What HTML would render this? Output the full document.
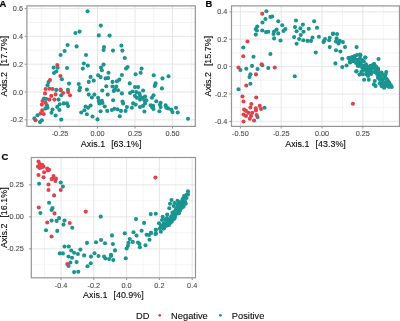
<!DOCTYPE html>
<html><head><meta charset="utf-8">
<style>
html,body{margin:0;padding:0;background:#fff;width:400px;height:321px;overflow:hidden}
svg{display:block;filter:blur(0.35px)}
text{font-family:"Liberation Sans",sans-serif}
.tk{font-size:7.3px;fill:#484848;stroke:#484848;stroke-width:0.08px}
.ti{font-size:9.6px;fill:#0a0a0a;stroke:#0a0a0a;stroke-width:0.12px;word-spacing:-0.5px}
.tag{font-size:9.4px;font-weight:bold;fill:#000;stroke:#000;stroke-width:0.2px}
.lg{font-size:9.3px;fill:#0a0a0a;stroke:#0a0a0a;stroke-width:0.1px}
</style></head>
<body>
<svg width="400" height="321" viewBox="0 0 400 321">
<rect width="400" height="321" fill="#fff"/>
<line x1="41.25" y1="5.9" x2="41.25" y2="126.4" stroke="#EDEDED" stroke-width="0.6"/>
<line x1="78.75" y1="5.9" x2="78.75" y2="126.4" stroke="#EDEDED" stroke-width="0.6"/>
<line x1="116.25" y1="5.9" x2="116.25" y2="126.4" stroke="#EDEDED" stroke-width="0.6"/>
<line x1="153.75" y1="5.9" x2="153.75" y2="126.4" stroke="#EDEDED" stroke-width="0.6"/>
<line x1="191.25" y1="5.9" x2="191.25" y2="126.4" stroke="#EDEDED" stroke-width="0.6"/>
<line x1="26.9" y1="22.50" x2="195.3" y2="22.50" stroke="#EDEDED" stroke-width="0.6"/>
<line x1="26.9" y1="50.30" x2="195.3" y2="50.30" stroke="#EDEDED" stroke-width="0.6"/>
<line x1="26.9" y1="78.10" x2="195.3" y2="78.10" stroke="#EDEDED" stroke-width="0.6"/>
<line x1="26.9" y1="105.90" x2="195.3" y2="105.90" stroke="#EDEDED" stroke-width="0.6"/>
<line x1="60.00" y1="5.9" x2="60.00" y2="126.4" stroke="#E0E0E0" stroke-width="0.8"/>
<line x1="97.50" y1="5.9" x2="97.50" y2="126.4" stroke="#E0E0E0" stroke-width="0.8"/>
<line x1="135.00" y1="5.9" x2="135.00" y2="126.4" stroke="#E0E0E0" stroke-width="0.8"/>
<line x1="172.50" y1="5.9" x2="172.50" y2="126.4" stroke="#E0E0E0" stroke-width="0.8"/>
<line x1="26.9" y1="8.60" x2="195.3" y2="8.60" stroke="#E0E0E0" stroke-width="0.8"/>
<line x1="26.9" y1="36.40" x2="195.3" y2="36.40" stroke="#E0E0E0" stroke-width="0.8"/>
<line x1="26.9" y1="64.20" x2="195.3" y2="64.20" stroke="#E0E0E0" stroke-width="0.8"/>
<line x1="26.9" y1="92.00" x2="195.3" y2="92.00" stroke="#E0E0E0" stroke-width="0.8"/>
<line x1="26.9" y1="119.80" x2="195.3" y2="119.80" stroke="#E0E0E0" stroke-width="0.8"/>
<g>
<circle cx="60.6" cy="90.3" r="2.05" fill="#1A9490"/>
<circle cx="87.6" cy="11.2" r="2.05" fill="#1A9490"/>
<circle cx="100.8" cy="25.6" r="2.05" fill="#1A9490"/>
<circle cx="75.4" cy="33" r="2.05" fill="#1A9490"/>
<circle cx="79.6" cy="31.6" r="2.05" fill="#1A9490"/>
<circle cx="98.8" cy="35.4" r="2.05" fill="#1A9490"/>
<circle cx="67.6" cy="45" r="2.05" fill="#1A9490"/>
<circle cx="76.6" cy="46.4" r="2.05" fill="#1A9490"/>
<circle cx="64.6" cy="51" r="2.05" fill="#1A9490"/>
<circle cx="60.6" cy="55" r="2.05" fill="#1A9490"/>
<circle cx="86" cy="55" r="2.05" fill="#1A9490"/>
<circle cx="104" cy="47" r="2.05" fill="#1A9490"/>
<circle cx="103.6" cy="50" r="2.05" fill="#1A9490"/>
<circle cx="83.8" cy="63.5" r="2.05" fill="#1A9490"/>
<circle cx="87.8" cy="65.6" r="2.05" fill="#1A9490"/>
<circle cx="53.6" cy="67.6" r="2.05" fill="#1A9490"/>
<circle cx="57.6" cy="67.7" r="2.05" fill="#1A9490"/>
<circle cx="67" cy="68" r="2.05" fill="#1A9490"/>
<circle cx="82.8" cy="68.6" r="2.05" fill="#1A9490"/>
<circle cx="101" cy="67.6" r="2.05" fill="#1A9490"/>
<circle cx="103.6" cy="64.6" r="2.05" fill="#1A9490"/>
<circle cx="109.6" cy="35.6" r="2.05" fill="#1A9490"/>
<circle cx="113" cy="50.6" r="2.05" fill="#1A9490"/>
<circle cx="121.4" cy="45.6" r="2.05" fill="#1A9490"/>
<circle cx="122.4" cy="50.6" r="2.05" fill="#1A9490"/>
<circle cx="124.8" cy="58" r="2.05" fill="#1A9490"/>
<circle cx="127.6" cy="67" r="2.05" fill="#1A9490"/>
<circle cx="126" cy="68.6" r="2.05" fill="#1A9490"/>
<circle cx="141.6" cy="68.6" r="2.05" fill="#1A9490"/>
<circle cx="54" cy="73" r="2.05" fill="#1A9490"/>
<circle cx="56.25" cy="71.5" r="2.05" fill="#1A9490"/>
<circle cx="61.9" cy="79.25" r="2.05" fill="#1A9490"/>
<circle cx="48.5" cy="82.1" r="2.05" fill="#1A9490"/>
<circle cx="47.5" cy="85.25" r="2.05" fill="#1A9490"/>
<circle cx="69" cy="83.6" r="2.05" fill="#1A9490"/>
<circle cx="78.75" cy="84" r="2.05" fill="#1A9490"/>
<circle cx="56.25" cy="89.9" r="2.05" fill="#1A9490"/>
<circle cx="67.9" cy="89.9" r="2.05" fill="#1A9490"/>
<circle cx="61.25" cy="95.25" r="2.05" fill="#1A9490"/>
<circle cx="44" cy="98.6" r="2.05" fill="#1A9490"/>
<circle cx="46.25" cy="99" r="2.05" fill="#1A9490"/>
<circle cx="58.5" cy="99.6" r="2.05" fill="#1A9490"/>
<circle cx="63.75" cy="103.4" r="2.05" fill="#1A9490"/>
<circle cx="66.9" cy="103.4" r="2.05" fill="#1A9490"/>
<circle cx="46.9" cy="105.25" r="2.05" fill="#1A9490"/>
<circle cx="47.5" cy="107.75" r="2.05" fill="#1A9490"/>
<circle cx="45.6" cy="108.4" r="2.05" fill="#1A9490"/>
<circle cx="59.75" cy="104.25" r="2.05" fill="#1A9490"/>
<circle cx="57.25" cy="106.9" r="2.05" fill="#1A9490"/>
<circle cx="68.1" cy="106.1" r="2.05" fill="#1A9490"/>
<circle cx="52.5" cy="109.6" r="2.05" fill="#1A9490"/>
<circle cx="59.4" cy="110" r="2.05" fill="#1A9490"/>
<circle cx="51.5" cy="112.75" r="2.05" fill="#1A9490"/>
<circle cx="55.6" cy="115.5" r="2.05" fill="#1A9490"/>
<circle cx="37.5" cy="115.25" r="2.05" fill="#1A9490"/>
<circle cx="34.4" cy="118.4" r="2.05" fill="#1A9490"/>
<circle cx="41.9" cy="120.25" r="2.05" fill="#1A9490"/>
<circle cx="40" cy="122.1" r="2.05" fill="#1A9490"/>
<circle cx="61.25" cy="119.6" r="2.05" fill="#1A9490"/>
<circle cx="101.9" cy="70.25" r="2.05" fill="#1A9490"/>
<circle cx="108.5" cy="72.75" r="2.05" fill="#1A9490"/>
<circle cx="121.9" cy="75" r="2.05" fill="#1A9490"/>
<circle cx="98.1" cy="75.25" r="2.05" fill="#1A9490"/>
<circle cx="100.6" cy="77.1" r="2.05" fill="#1A9490"/>
<circle cx="90.6" cy="76.9" r="2.05" fill="#1A9490"/>
<circle cx="105.6" cy="78.4" r="2.05" fill="#1A9490"/>
<circle cx="108.1" cy="78.1" r="2.05" fill="#1A9490"/>
<circle cx="93.75" cy="80.6" r="2.05" fill="#1A9490"/>
<circle cx="88.75" cy="81.9" r="2.05" fill="#1A9490"/>
<circle cx="112.5" cy="81.9" r="2.05" fill="#1A9490"/>
<circle cx="116.9" cy="81.25" r="2.05" fill="#1A9490"/>
<circle cx="119.4" cy="79.6" r="2.05" fill="#1A9490"/>
<circle cx="80" cy="87.75" r="2.05" fill="#1A9490"/>
<circle cx="79.4" cy="90.25" r="2.05" fill="#1A9490"/>
<circle cx="106.25" cy="86.25" r="2.05" fill="#1A9490"/>
<circle cx="112.5" cy="86.5" r="2.05" fill="#1A9490"/>
<circle cx="116.25" cy="86.5" r="2.05" fill="#1A9490"/>
<circle cx="86.9" cy="89.6" r="2.05" fill="#1A9490"/>
<circle cx="102.25" cy="90.5" r="2.05" fill="#1A9490"/>
<circle cx="115" cy="89.6" r="2.05" fill="#1A9490"/>
<circle cx="118.1" cy="90.25" r="2.05" fill="#1A9490"/>
<circle cx="113.75" cy="90.9" r="2.05" fill="#1A9490"/>
<circle cx="121.9" cy="93.4" r="2.05" fill="#1A9490"/>
<circle cx="88.75" cy="94.6" r="2.05" fill="#1A9490"/>
<circle cx="94.4" cy="94.6" r="2.05" fill="#1A9490"/>
<circle cx="107.75" cy="94.6" r="2.05" fill="#1A9490"/>
<circle cx="91.9" cy="97.5" r="2.05" fill="#1A9490"/>
<circle cx="98.1" cy="97.75" r="2.05" fill="#1A9490"/>
<circle cx="98.75" cy="100.9" r="2.05" fill="#1A9490"/>
<circle cx="101.9" cy="100.9" r="2.05" fill="#1A9490"/>
<circle cx="113.1" cy="100.25" r="2.05" fill="#1A9490"/>
<circle cx="122.5" cy="101.5" r="2.05" fill="#1A9490"/>
<circle cx="99.4" cy="103.4" r="2.05" fill="#1A9490"/>
<circle cx="102.5" cy="103" r="2.05" fill="#1A9490"/>
<circle cx="123.1" cy="103.4" r="2.05" fill="#1A9490"/>
<circle cx="104.75" cy="106.5" r="2.05" fill="#1A9490"/>
<circle cx="90.6" cy="105.5" r="2.05" fill="#1A9490"/>
<circle cx="85.6" cy="106.5" r="2.05" fill="#1A9490"/>
<circle cx="88.1" cy="107.75" r="2.05" fill="#1A9490"/>
<circle cx="84.4" cy="110.25" r="2.05" fill="#1A9490"/>
<circle cx="81.25" cy="112.5" r="2.05" fill="#1A9490"/>
<circle cx="86.9" cy="114.25" r="2.05" fill="#1A9490"/>
<circle cx="92.5" cy="116.5" r="2.05" fill="#1A9490"/>
<circle cx="97.5" cy="119.4" r="2.05" fill="#1A9490"/>
<circle cx="100.6" cy="111.25" r="2.05" fill="#1A9490"/>
<circle cx="107.25" cy="110.9" r="2.05" fill="#1A9490"/>
<circle cx="111.9" cy="110" r="2.05" fill="#1A9490"/>
<circle cx="114.4" cy="108.75" r="2.05" fill="#1A9490"/>
<circle cx="117.5" cy="109.25" r="2.05" fill="#1A9490"/>
<circle cx="121" cy="110.9" r="2.05" fill="#1A9490"/>
<circle cx="119.75" cy="116.25" r="2.05" fill="#1A9490"/>
<circle cx="140.6" cy="72.75" r="2.05" fill="#1A9490"/>
<circle cx="135.6" cy="74.25" r="2.05" fill="#1A9490"/>
<circle cx="153.75" cy="75.25" r="2.05" fill="#1A9490"/>
<circle cx="162.5" cy="78.4" r="2.05" fill="#1A9490"/>
<circle cx="168.5" cy="76.25" r="2.05" fill="#1A9490"/>
<circle cx="129.75" cy="83.4" r="2.05" fill="#1A9490"/>
<circle cx="155.6" cy="83.4" r="2.05" fill="#1A9490"/>
<circle cx="154.75" cy="85.9" r="2.05" fill="#1A9490"/>
<circle cx="161.9" cy="88.4" r="2.05" fill="#1A9490"/>
<circle cx="135" cy="87.1" r="2.05" fill="#1A9490"/>
<circle cx="138.1" cy="87.1" r="2.05" fill="#1A9490"/>
<circle cx="130" cy="93" r="2.05" fill="#1A9490"/>
<circle cx="132.5" cy="91.5" r="2.05" fill="#1A9490"/>
<circle cx="136.25" cy="92.1" r="2.05" fill="#1A9490"/>
<circle cx="139.4" cy="93.4" r="2.05" fill="#1A9490"/>
<circle cx="143.1" cy="90.5" r="2.05" fill="#1A9490"/>
<circle cx="135" cy="95.9" r="2.05" fill="#1A9490"/>
<circle cx="136.9" cy="97.75" r="2.05" fill="#1A9490"/>
<circle cx="140" cy="95.9" r="2.05" fill="#1A9490"/>
<circle cx="142.5" cy="97.75" r="2.05" fill="#1A9490"/>
<circle cx="145" cy="96.5" r="2.05" fill="#1A9490"/>
<circle cx="140" cy="99.6" r="2.05" fill="#1A9490"/>
<circle cx="144.4" cy="100.25" r="2.05" fill="#1A9490"/>
<circle cx="146.25" cy="100.25" r="2.05" fill="#1A9490"/>
<circle cx="151.9" cy="97.75" r="2.05" fill="#1A9490"/>
<circle cx="153.5" cy="95.25" r="2.05" fill="#1A9490"/>
<circle cx="156.25" cy="101.25" r="2.05" fill="#1A9490"/>
<circle cx="160.6" cy="102.75" r="2.05" fill="#1A9490"/>
<circle cx="133.1" cy="103.4" r="2.05" fill="#1A9490"/>
<circle cx="145" cy="103.4" r="2.05" fill="#1A9490"/>
<circle cx="135.6" cy="104.6" r="2.05" fill="#1A9490"/>
<circle cx="143.1" cy="105.9" r="2.05" fill="#1A9490"/>
<circle cx="140" cy="107.1" r="2.05" fill="#1A9490"/>
<circle cx="150.6" cy="105.25" r="2.05" fill="#1A9490"/>
<circle cx="153.1" cy="105.9" r="2.05" fill="#1A9490"/>
<circle cx="151.9" cy="107.1" r="2.05" fill="#1A9490"/>
<circle cx="153.5" cy="109" r="2.05" fill="#1A9490"/>
<circle cx="160" cy="104.6" r="2.05" fill="#1A9490"/>
<circle cx="160.6" cy="107.1" r="2.05" fill="#1A9490"/>
<circle cx="165.6" cy="105.25" r="2.05" fill="#1A9490"/>
<circle cx="166.25" cy="107.75" r="2.05" fill="#1A9490"/>
<circle cx="168.1" cy="108.4" r="2.05" fill="#1A9490"/>
<circle cx="126.9" cy="107.1" r="2.05" fill="#1A9490"/>
<circle cx="131.9" cy="107.75" r="2.05" fill="#1A9490"/>
<circle cx="125.6" cy="110.9" r="2.05" fill="#1A9490"/>
<circle cx="144.4" cy="111.5" r="2.05" fill="#1A9490"/>
<circle cx="159.4" cy="111.25" r="2.05" fill="#1A9490"/>
<circle cx="171.25" cy="109.6" r="2.05" fill="#1A9490"/>
<circle cx="172.5" cy="112.1" r="2.05" fill="#1A9490"/>
<circle cx="176" cy="107.75" r="2.05" fill="#1A9490"/>
<circle cx="177.75" cy="112.5" r="2.05" fill="#1A9490"/>
<circle cx="188" cy="118.7" r="2.05" fill="#1A9490"/>
<circle cx="57.25" cy="65" r="2.05" fill="#DE434D"/>
<circle cx="60.4" cy="76.1" r="2.05" fill="#DE434D"/>
<circle cx="50" cy="80" r="2.05" fill="#DE434D"/>
<circle cx="45.6" cy="89" r="2.05" fill="#DE434D"/>
<circle cx="49.4" cy="88.75" r="2.05" fill="#DE434D"/>
<circle cx="52.5" cy="89" r="2.05" fill="#DE434D"/>
<circle cx="60.6" cy="89.6" r="2.05" fill="#DE434D"/>
<circle cx="63.1" cy="93" r="2.05" fill="#DE434D"/>
<circle cx="68.1" cy="92.1" r="2.05" fill="#DE434D"/>
<circle cx="70" cy="95.25" r="2.05" fill="#DE434D"/>
<circle cx="45" cy="93.4" r="2.05" fill="#DE434D"/>
<circle cx="55.6" cy="94.4" r="2.05" fill="#DE434D"/>
<circle cx="51.25" cy="95.9" r="2.05" fill="#DE434D"/>
<circle cx="42.5" cy="101" r="2.05" fill="#DE434D"/>
<circle cx="49.4" cy="99.6" r="2.05" fill="#DE434D"/>
<circle cx="54.4" cy="99.6" r="2.05" fill="#DE434D"/>
<circle cx="45.6" cy="102.75" r="2.05" fill="#DE434D"/>
<circle cx="41.9" cy="104.6" r="2.05" fill="#DE434D"/>
<circle cx="42.25" cy="110.25" r="2.05" fill="#DE434D"/>
<circle cx="40.6" cy="113.4" r="2.05" fill="#DE434D"/>
<circle cx="43.75" cy="114" r="2.05" fill="#DE434D"/>
<circle cx="35.6" cy="120.25" r="2.05" fill="#DE434D"/>
</g>
<rect x="26.9" y="5.9" width="168.40" height="120.50" fill="none" stroke="#959595" stroke-width="1.2"/>
<line x1="60.00" y1="126.4" x2="60.00" y2="128.60" stroke="#959595" stroke-width="1"/>
<text x="60.00" y="136.4" text-anchor="middle" class="tk">-0.25</text>
<line x1="97.50" y1="126.4" x2="97.50" y2="128.60" stroke="#959595" stroke-width="1"/>
<text x="97.50" y="136.4" text-anchor="middle" class="tk">0.00</text>
<line x1="135.00" y1="126.4" x2="135.00" y2="128.60" stroke="#959595" stroke-width="1"/>
<text x="135.00" y="136.4" text-anchor="middle" class="tk">0.25</text>
<line x1="172.50" y1="126.4" x2="172.50" y2="128.60" stroke="#959595" stroke-width="1"/>
<text x="172.50" y="136.4" text-anchor="middle" class="tk">0.50</text>
<line x1="24.70" y1="8.60" x2="26.9" y2="8.60" stroke="#959595" stroke-width="1"/>
<text x="23.0" y="11.10" text-anchor="end" class="tk">0.6</text>
<line x1="24.70" y1="36.40" x2="26.9" y2="36.40" stroke="#959595" stroke-width="1"/>
<text x="23.0" y="38.90" text-anchor="end" class="tk">0.4</text>
<line x1="24.70" y1="64.20" x2="26.9" y2="64.20" stroke="#959595" stroke-width="1"/>
<text x="23.0" y="66.70" text-anchor="end" class="tk">0.2</text>
<line x1="24.70" y1="92.00" x2="26.9" y2="92.00" stroke="#959595" stroke-width="1"/>
<text x="23.0" y="94.50" text-anchor="end" class="tk">0.0</text>
<line x1="24.70" y1="119.80" x2="26.9" y2="119.80" stroke="#959595" stroke-width="1"/>
<text x="23.0" y="122.30" text-anchor="end" class="tk">-0.2</text>
<text transform="translate(111.10,146.8) scale(0.93,1)" text-anchor="middle" class="ti" xml:space="preserve">Axis.1   [63.1%]</text>
<text transform="translate(6.9,66.15) rotate(-90) scale(0.93,1)" text-anchor="middle" class="ti" xml:space="preserve">Axis.2   [17.7%]</text>
<text x="-0.6" y="7.1" class="tag">A</text>
<line x1="260.80" y1="5.9" x2="260.80" y2="126.4" stroke="#EDEDED" stroke-width="0.6"/>
<line x1="301.60" y1="5.9" x2="301.60" y2="126.4" stroke="#EDEDED" stroke-width="0.6"/>
<line x1="342.40" y1="5.9" x2="342.40" y2="126.4" stroke="#EDEDED" stroke-width="0.6"/>
<line x1="383.20" y1="5.9" x2="383.20" y2="126.4" stroke="#EDEDED" stroke-width="0.6"/>
<line x1="231.5" y1="25.50" x2="399.5" y2="25.50" stroke="#EDEDED" stroke-width="0.6"/>
<line x1="231.5" y1="52.90" x2="399.5" y2="52.90" stroke="#EDEDED" stroke-width="0.6"/>
<line x1="231.5" y1="80.30" x2="399.5" y2="80.30" stroke="#EDEDED" stroke-width="0.6"/>
<line x1="231.5" y1="107.70" x2="399.5" y2="107.70" stroke="#EDEDED" stroke-width="0.6"/>
<line x1="240.40" y1="5.9" x2="240.40" y2="126.4" stroke="#E0E0E0" stroke-width="0.8"/>
<line x1="281.20" y1="5.9" x2="281.20" y2="126.4" stroke="#E0E0E0" stroke-width="0.8"/>
<line x1="322.00" y1="5.9" x2="322.00" y2="126.4" stroke="#E0E0E0" stroke-width="0.8"/>
<line x1="362.80" y1="5.9" x2="362.80" y2="126.4" stroke="#E0E0E0" stroke-width="0.8"/>
<line x1="231.5" y1="11.80" x2="399.5" y2="11.80" stroke="#E0E0E0" stroke-width="0.8"/>
<line x1="231.5" y1="39.20" x2="399.5" y2="39.20" stroke="#E0E0E0" stroke-width="0.8"/>
<line x1="231.5" y1="66.60" x2="399.5" y2="66.60" stroke="#E0E0E0" stroke-width="0.8"/>
<line x1="231.5" y1="94.00" x2="399.5" y2="94.00" stroke="#E0E0E0" stroke-width="0.8"/>
<line x1="231.5" y1="121.40" x2="399.5" y2="121.40" stroke="#E0E0E0" stroke-width="0.8"/>
<g>
<circle cx="262.3" cy="65.2" r="2.05" fill="#1A9490"/>
<circle cx="266.4" cy="11.25" r="2.05" fill="#1A9490"/>
<circle cx="265.4" cy="19" r="2.05" fill="#1A9490"/>
<circle cx="270.4" cy="16.9" r="2.05" fill="#1A9490"/>
<circle cx="272.25" cy="16.5" r="2.05" fill="#1A9490"/>
<circle cx="262.5" cy="22.5" r="2.05" fill="#1A9490"/>
<circle cx="278.25" cy="21.25" r="2.05" fill="#1A9490"/>
<circle cx="257.25" cy="26.5" r="2.05" fill="#1A9490"/>
<circle cx="255.75" cy="29" r="2.05" fill="#1A9490"/>
<circle cx="256.9" cy="30.5" r="2.05" fill="#1A9490"/>
<circle cx="262.25" cy="30.5" r="2.05" fill="#1A9490"/>
<circle cx="266" cy="32.1" r="2.05" fill="#1A9490"/>
<circle cx="268.25" cy="31.75" r="2.05" fill="#1A9490"/>
<circle cx="274.1" cy="31.5" r="2.05" fill="#1A9490"/>
<circle cx="276.6" cy="29.6" r="2.05" fill="#1A9490"/>
<circle cx="273.5" cy="34" r="2.05" fill="#1A9490"/>
<circle cx="278.25" cy="33.4" r="2.05" fill="#1A9490"/>
<circle cx="255.75" cy="34.6" r="2.05" fill="#1A9490"/>
<circle cx="274.1" cy="38.4" r="2.05" fill="#1A9490"/>
<circle cx="280.5" cy="40.5" r="2.05" fill="#1A9490"/>
<circle cx="282.25" cy="25.25" r="2.05" fill="#1A9490"/>
<circle cx="285.4" cy="29" r="2.05" fill="#1A9490"/>
<circle cx="283.5" cy="30.9" r="2.05" fill="#1A9490"/>
<circle cx="296" cy="20.5" r="2.05" fill="#1A9490"/>
<circle cx="302.9" cy="24.6" r="2.05" fill="#1A9490"/>
<circle cx="295" cy="27.1" r="2.05" fill="#1A9490"/>
<circle cx="300.4" cy="28.4" r="2.05" fill="#1A9490"/>
<circle cx="296.6" cy="31.25" r="2.05" fill="#1A9490"/>
<circle cx="303.5" cy="31.75" r="2.05" fill="#1A9490"/>
<circle cx="308.75" cy="28.75" r="2.05" fill="#1A9490"/>
<circle cx="314.1" cy="21.25" r="2.05" fill="#1A9490"/>
<circle cx="317" cy="27.75" r="2.05" fill="#1A9490"/>
<circle cx="300.75" cy="35" r="2.05" fill="#1A9490"/>
<circle cx="294.1" cy="37.1" r="2.05" fill="#1A9490"/>
<circle cx="299.1" cy="39" r="2.05" fill="#1A9490"/>
<circle cx="303.25" cy="40.25" r="2.05" fill="#1A9490"/>
<circle cx="307.5" cy="40.9" r="2.05" fill="#1A9490"/>
<circle cx="311" cy="40.9" r="2.05" fill="#1A9490"/>
<circle cx="312.5" cy="37.5" r="2.05" fill="#1A9490"/>
<circle cx="318.9" cy="36.75" r="2.05" fill="#1A9490"/>
<circle cx="324.1" cy="40.9" r="2.05" fill="#1A9490"/>
<circle cx="323.5" cy="42.1" r="2.05" fill="#1A9490"/>
<circle cx="329.1" cy="40.25" r="2.05" fill="#1A9490"/>
<circle cx="329.75" cy="37.75" r="2.05" fill="#1A9490"/>
<circle cx="296.6" cy="43.75" r="2.05" fill="#1A9490"/>
<circle cx="325" cy="39" r="2.05" fill="#1A9490"/>
<circle cx="333" cy="33.5" r="2.05" fill="#1A9490"/>
<circle cx="338.5" cy="42.5" r="2.05" fill="#1A9490"/>
<circle cx="332.9" cy="34" r="2.05" fill="#1A9490"/>
<circle cx="337" cy="34" r="2.05" fill="#1A9490"/>
<circle cx="336.6" cy="38.4" r="2.05" fill="#1A9490"/>
<circle cx="336" cy="41.5" r="2.05" fill="#1A9490"/>
<circle cx="339.75" cy="40.9" r="2.05" fill="#1A9490"/>
<circle cx="342.9" cy="42.1" r="2.05" fill="#1A9490"/>
<circle cx="338.5" cy="43.4" r="2.05" fill="#1A9490"/>
<circle cx="243.25" cy="47.5" r="2.05" fill="#1A9490"/>
<circle cx="253.5" cy="56.75" r="2.05" fill="#1A9490"/>
<circle cx="270.4" cy="54" r="2.05" fill="#1A9490"/>
<circle cx="252" cy="65.9" r="2.05" fill="#1A9490"/>
<circle cx="240.4" cy="70" r="2.05" fill="#1A9490"/>
<circle cx="246.25" cy="68.75" r="2.05" fill="#1A9490"/>
<circle cx="257.5" cy="69" r="2.05" fill="#1A9490"/>
<circle cx="268.25" cy="68" r="2.05" fill="#1A9490"/>
<circle cx="250.4" cy="74.25" r="2.05" fill="#1A9490"/>
<circle cx="249.5" cy="77.1" r="2.05" fill="#1A9490"/>
<circle cx="250.4" cy="83.75" r="2.05" fill="#1A9490"/>
<circle cx="238.5" cy="89.25" r="2.05" fill="#1A9490"/>
<circle cx="264.5" cy="107.75" r="2.05" fill="#1A9490"/>
<circle cx="257.5" cy="117.1" r="2.05" fill="#1A9490"/>
<circle cx="315.75" cy="52.5" r="2.05" fill="#1A9490"/>
<circle cx="329.75" cy="47.1" r="2.05" fill="#1A9490"/>
<circle cx="294.75" cy="76.25" r="2.05" fill="#1A9490"/>
<circle cx="336" cy="50.25" r="2.05" fill="#1A9490"/>
<circle cx="340.4" cy="51.5" r="2.05" fill="#1A9490"/>
<circle cx="345" cy="47.1" r="2.05" fill="#1A9490"/>
<circle cx="356.6" cy="47.1" r="2.05" fill="#1A9490"/>
<circle cx="342.25" cy="58.75" r="2.05" fill="#1A9490"/>
<circle cx="335.4" cy="63.4" r="2.05" fill="#1A9490"/>
<circle cx="348.5" cy="58" r="2.05" fill="#1A9490"/>
<circle cx="342.25" cy="67.1" r="2.05" fill="#1A9490"/>
<circle cx="346.6" cy="65.5" r="2.05" fill="#1A9490"/>
<circle cx="349.75" cy="62.1" r="2.05" fill="#1A9490"/>
<circle cx="354.1" cy="56.5" r="2.05" fill="#1A9490"/>
<circle cx="360.4" cy="55.25" r="2.05" fill="#1A9490"/>
<circle cx="365.4" cy="57.5" r="2.05" fill="#1A9490"/>
<circle cx="378.5" cy="59" r="2.05" fill="#1A9490"/>
<circle cx="356.6" cy="71.25" r="2.05" fill="#1A9490"/>
<circle cx="359.5" cy="74.6" r="2.05" fill="#1A9490"/>
<circle cx="374.1" cy="64" r="2.05" fill="#1A9490"/>
<circle cx="348.75" cy="57.9" r="2.05" fill="#1A9490"/>
<circle cx="354.75" cy="56" r="2.05" fill="#1A9490"/>
<circle cx="360" cy="54.5" r="2.05" fill="#1A9490"/>
<circle cx="365.25" cy="57.5" r="2.05" fill="#1A9490"/>
<circle cx="350.25" cy="62.4" r="2.05" fill="#1A9490"/>
<circle cx="353.25" cy="61.25" r="2.05" fill="#1A9490"/>
<circle cx="357" cy="59.75" r="2.05" fill="#1A9490"/>
<circle cx="360" cy="58.25" r="2.05" fill="#1A9490"/>
<circle cx="359.25" cy="62.75" r="2.05" fill="#1A9490"/>
<circle cx="357.75" cy="65.75" r="2.05" fill="#1A9490"/>
<circle cx="363.75" cy="61.25" r="2.05" fill="#1A9490"/>
<circle cx="366" cy="64.25" r="2.05" fill="#1A9490"/>
<circle cx="362.25" cy="68" r="2.05" fill="#1A9490"/>
<circle cx="365.25" cy="68.75" r="2.05" fill="#1A9490"/>
<circle cx="368.25" cy="67.25" r="2.05" fill="#1A9490"/>
<circle cx="374.25" cy="64.25" r="2.05" fill="#1A9490"/>
<circle cx="370.5" cy="70.25" r="2.05" fill="#1A9490"/>
<circle cx="366.75" cy="72.5" r="2.05" fill="#1A9490"/>
<circle cx="356.25" cy="71.4" r="2.05" fill="#1A9490"/>
<circle cx="375" cy="71.75" r="2.05" fill="#1A9490"/>
<circle cx="378" cy="68.75" r="2.05" fill="#1A9490"/>
<circle cx="361.5" cy="71.75" r="2.05" fill="#1A9490"/>
<circle cx="363.7" cy="65.7" r="2.05" fill="#1A9490"/>
<circle cx="367.1" cy="66.5" r="2.05" fill="#1A9490"/>
<circle cx="370.5" cy="65.7" r="2.05" fill="#1A9490"/>
<circle cx="373" cy="64.85" r="2.05" fill="#1A9490"/>
<circle cx="363.7" cy="70" r="2.05" fill="#1A9490"/>
<circle cx="367.1" cy="70.8" r="2.05" fill="#1A9490"/>
<circle cx="370.5" cy="70" r="2.05" fill="#1A9490"/>
<circle cx="362.85" cy="74.2" r="2.05" fill="#1A9490"/>
<circle cx="366.25" cy="74.2" r="2.05" fill="#1A9490"/>
<circle cx="369.65" cy="73.35" r="2.05" fill="#1A9490"/>
<circle cx="374.75" cy="68.25" r="2.05" fill="#1A9490"/>
<circle cx="378.15" cy="69.1" r="2.05" fill="#1A9490"/>
<circle cx="375.6" cy="72.5" r="2.05" fill="#1A9490"/>
<circle cx="379" cy="73.35" r="2.05" fill="#1A9490"/>
<circle cx="381.55" cy="72.5" r="2.05" fill="#1A9490"/>
<circle cx="386.25" cy="72.1" r="2.05" fill="#1A9490"/>
<circle cx="378.15" cy="76.75" r="2.05" fill="#1A9490"/>
<circle cx="380.7" cy="77.6" r="2.05" fill="#1A9490"/>
<circle cx="382.4" cy="81" r="2.05" fill="#1A9490"/>
<circle cx="379.85" cy="83.55" r="2.05" fill="#1A9490"/>
<circle cx="381.55" cy="86.1" r="2.05" fill="#1A9490"/>
<circle cx="384.1" cy="87.8" r="2.05" fill="#1A9490"/>
<circle cx="385" cy="76.75" r="2.05" fill="#1A9490"/>
<circle cx="387.5" cy="80.15" r="2.05" fill="#1A9490"/>
<circle cx="389.2" cy="82.7" r="2.05" fill="#1A9490"/>
<circle cx="386.7" cy="83.55" r="2.05" fill="#1A9490"/>
<circle cx="390.9" cy="85.25" r="2.05" fill="#1A9490"/>
<circle cx="391.75" cy="87" r="2.05" fill="#1A9490"/>
<circle cx="364.1" cy="79.75" r="2.05" fill="#1A9490"/>
<circle cx="368.8" cy="79.75" r="2.05" fill="#1A9490"/>
<circle cx="373.9" cy="84.4" r="2.05" fill="#1A9490"/>
<circle cx="375.6" cy="86.1" r="2.05" fill="#1A9490"/>
<circle cx="374.75" cy="81" r="2.05" fill="#1A9490"/>
<circle cx="383.25" cy="86.5" r="2.05" fill="#1A9490"/>
<circle cx="376" cy="66.5" r="2.05" fill="#1A9490"/>
<circle cx="378" cy="70.5" r="2.05" fill="#1A9490"/>
<circle cx="380" cy="74.5" r="2.05" fill="#1A9490"/>
<circle cx="381.5" cy="79" r="2.05" fill="#1A9490"/>
<circle cx="383" cy="83" r="2.05" fill="#1A9490"/>
<circle cx="384" cy="85" r="2.05" fill="#1A9490"/>
<circle cx="386" cy="78.5" r="2.05" fill="#1A9490"/>
<circle cx="388" cy="81.5" r="2.05" fill="#1A9490"/>
<circle cx="389.5" cy="84" r="2.05" fill="#1A9490"/>
<circle cx="387.5" cy="86" r="2.05" fill="#1A9490"/>
<circle cx="383.5" cy="75" r="2.05" fill="#1A9490"/>
<circle cx="385.5" cy="74.5" r="2.05" fill="#1A9490"/>
<circle cx="370" cy="68" r="2.05" fill="#1A9490"/>
<circle cx="372" cy="72" r="2.05" fill="#1A9490"/>
<circle cx="368" cy="76" r="2.05" fill="#1A9490"/>
<circle cx="352" cy="57" r="2.05" fill="#1A9490"/>
<circle cx="355" cy="59" r="2.05" fill="#1A9490"/>
<circle cx="358" cy="61" r="2.05" fill="#1A9490"/>
<circle cx="361" cy="63" r="2.05" fill="#1A9490"/>
<circle cx="356" cy="63" r="2.05" fill="#1A9490"/>
<circle cx="359" cy="66" r="2.05" fill="#1A9490"/>
<circle cx="362" cy="66" r="2.05" fill="#1A9490"/>
<circle cx="350" cy="60" r="2.05" fill="#1A9490"/>
<circle cx="353" cy="58.5" r="2.05" fill="#1A9490"/>
<circle cx="357" cy="55" r="2.05" fill="#1A9490"/>
<circle cx="362" cy="60" r="2.05" fill="#1A9490"/>
<circle cx="366" cy="66" r="2.05" fill="#1A9490"/>
<circle cx="369" cy="69" r="2.05" fill="#1A9490"/>
<circle cx="372" cy="68" r="2.05" fill="#1A9490"/>
<circle cx="364" cy="68.5" r="2.05" fill="#1A9490"/>
<circle cx="367" cy="72" r="2.05" fill="#1A9490"/>
<circle cx="371" cy="74" r="2.05" fill="#1A9490"/>
<circle cx="380" cy="76" r="2.05" fill="#1A9490"/>
<circle cx="383" cy="79" r="2.05" fill="#1A9490"/>
<circle cx="386" cy="82" r="2.05" fill="#1A9490"/>
<circle cx="388" cy="85" r="2.05" fill="#1A9490"/>
<circle cx="385" cy="86" r="2.05" fill="#1A9490"/>
<circle cx="380" cy="80" r="2.05" fill="#1A9490"/>
<circle cx="382" cy="84" r="2.05" fill="#1A9490"/>
<circle cx="378" cy="78" r="2.05" fill="#1A9490"/>
<circle cx="377" cy="74" r="2.05" fill="#1A9490"/>
<circle cx="389" cy="87" r="2.05" fill="#1A9490"/>
<circle cx="262.25" cy="13.75" r="2.05" fill="#DE434D"/>
<circle cx="247.5" cy="41.5" r="2.05" fill="#DE434D"/>
<circle cx="243.25" cy="56.25" r="2.05" fill="#DE434D"/>
<circle cx="261.6" cy="64.25" r="2.05" fill="#DE434D"/>
<circle cx="238.5" cy="67.5" r="2.05" fill="#DE434D"/>
<circle cx="274.75" cy="67.5" r="2.05" fill="#DE434D"/>
<circle cx="256" cy="74.4" r="2.05" fill="#DE434D"/>
<circle cx="246.25" cy="85.5" r="2.05" fill="#DE434D"/>
<circle cx="242.5" cy="96.5" r="2.05" fill="#DE434D"/>
<circle cx="256.25" cy="97.5" r="2.05" fill="#DE434D"/>
<circle cx="243.5" cy="101.5" r="2.05" fill="#DE434D"/>
<circle cx="251.25" cy="104" r="2.05" fill="#DE434D"/>
<circle cx="250.4" cy="107.5" r="2.05" fill="#DE434D"/>
<circle cx="259.75" cy="105.9" r="2.05" fill="#DE434D"/>
<circle cx="255.75" cy="108.4" r="2.05" fill="#DE434D"/>
<circle cx="256" cy="110.5" r="2.05" fill="#DE434D"/>
<circle cx="261" cy="109" r="2.05" fill="#DE434D"/>
<circle cx="244.1" cy="109.6" r="2.05" fill="#DE434D"/>
<circle cx="246" cy="110.9" r="2.05" fill="#DE434D"/>
<circle cx="248.5" cy="112.75" r="2.05" fill="#DE434D"/>
<circle cx="252.25" cy="112.75" r="2.05" fill="#DE434D"/>
<circle cx="243.5" cy="114.6" r="2.05" fill="#DE434D"/>
<circle cx="246" cy="115.9" r="2.05" fill="#DE434D"/>
<circle cx="251" cy="115.9" r="2.05" fill="#DE434D"/>
<circle cx="256.6" cy="115" r="2.05" fill="#DE434D"/>
<circle cx="249.75" cy="118.75" r="2.05" fill="#DE434D"/>
<circle cx="254.1" cy="120.5" r="2.05" fill="#DE434D"/>
<circle cx="243.5" cy="121.5" r="2.05" fill="#DE434D"/>
<circle cx="352.9" cy="103.75" r="2.05" fill="#DE434D"/>
</g>
<rect x="231.5" y="5.9" width="168.00" height="120.50" fill="none" stroke="#959595" stroke-width="1.2"/>
<line x1="240.40" y1="126.4" x2="240.40" y2="128.60" stroke="#959595" stroke-width="1"/>
<text x="240.40" y="136.4" text-anchor="middle" class="tk">-0.50</text>
<line x1="281.20" y1="126.4" x2="281.20" y2="128.60" stroke="#959595" stroke-width="1"/>
<text x="281.20" y="136.4" text-anchor="middle" class="tk">-0.25</text>
<line x1="322.00" y1="126.4" x2="322.00" y2="128.60" stroke="#959595" stroke-width="1"/>
<text x="322.00" y="136.4" text-anchor="middle" class="tk">0.00</text>
<line x1="362.80" y1="126.4" x2="362.80" y2="128.60" stroke="#959595" stroke-width="1"/>
<text x="362.80" y="136.4" text-anchor="middle" class="tk">0.25</text>
<line x1="229.30" y1="11.80" x2="231.5" y2="11.80" stroke="#959595" stroke-width="1"/>
<text x="227.4" y="14.30" text-anchor="end" class="tk">0.4</text>
<line x1="229.30" y1="39.20" x2="231.5" y2="39.20" stroke="#959595" stroke-width="1"/>
<text x="227.4" y="41.70" text-anchor="end" class="tk">0.2</text>
<line x1="229.30" y1="66.60" x2="231.5" y2="66.60" stroke="#959595" stroke-width="1"/>
<text x="227.4" y="69.10" text-anchor="end" class="tk">0.0</text>
<line x1="229.30" y1="94.00" x2="231.5" y2="94.00" stroke="#959595" stroke-width="1"/>
<text x="227.4" y="96.50" text-anchor="end" class="tk">-0.2</text>
<line x1="229.30" y1="121.40" x2="231.5" y2="121.40" stroke="#959595" stroke-width="1"/>
<text x="227.4" y="123.90" text-anchor="end" class="tk">-0.4</text>
<text transform="translate(315.50,146.8) scale(0.93,1)" text-anchor="middle" class="ti" xml:space="preserve">Axis.1   [43.3%]</text>
<text transform="translate(211.3,66.15) rotate(-90) scale(0.93,1)" text-anchor="middle" class="ti" xml:space="preserve">Axis.2   [15.7%]</text>
<text x="205.6" y="7.3" class="tag">B</text>
<line x1="44.60" y1="157.5" x2="44.60" y2="277.8" stroke="#EDEDED" stroke-width="0.6"/>
<line x1="77.40" y1="157.5" x2="77.40" y2="277.8" stroke="#EDEDED" stroke-width="0.6"/>
<line x1="110.20" y1="157.5" x2="110.20" y2="277.8" stroke="#EDEDED" stroke-width="0.6"/>
<line x1="143.00" y1="157.5" x2="143.00" y2="277.8" stroke="#EDEDED" stroke-width="0.6"/>
<line x1="175.80" y1="157.5" x2="175.80" y2="277.8" stroke="#EDEDED" stroke-width="0.6"/>
<line x1="31.3" y1="168.80" x2="195.5" y2="168.80" stroke="#EDEDED" stroke-width="0.6"/>
<line x1="31.3" y1="200.80" x2="195.5" y2="200.80" stroke="#EDEDED" stroke-width="0.6"/>
<line x1="31.3" y1="232.80" x2="195.5" y2="232.80" stroke="#EDEDED" stroke-width="0.6"/>
<line x1="31.3" y1="264.80" x2="195.5" y2="264.80" stroke="#EDEDED" stroke-width="0.6"/>
<line x1="61.00" y1="157.5" x2="61.00" y2="277.8" stroke="#E0E0E0" stroke-width="0.8"/>
<line x1="93.80" y1="157.5" x2="93.80" y2="277.8" stroke="#E0E0E0" stroke-width="0.8"/>
<line x1="126.60" y1="157.5" x2="126.60" y2="277.8" stroke="#E0E0E0" stroke-width="0.8"/>
<line x1="159.40" y1="157.5" x2="159.40" y2="277.8" stroke="#E0E0E0" stroke-width="0.8"/>
<line x1="192.20" y1="157.5" x2="192.20" y2="277.8" stroke="#E0E0E0" stroke-width="0.8"/>
<line x1="31.3" y1="184.80" x2="195.5" y2="184.80" stroke="#E0E0E0" stroke-width="0.8"/>
<line x1="31.3" y1="216.80" x2="195.5" y2="216.80" stroke="#E0E0E0" stroke-width="0.8"/>
<line x1="31.3" y1="248.80" x2="195.5" y2="248.80" stroke="#E0E0E0" stroke-width="0.8"/>
<g>
<circle cx="60.75" cy="182.5" r="2.05" fill="#1A9490"/>
<circle cx="62.9" cy="186.6" r="2.05" fill="#1A9490"/>
<circle cx="39.1" cy="183.75" r="2.05" fill="#1A9490"/>
<circle cx="49.1" cy="202.75" r="2.05" fill="#1A9490"/>
<circle cx="52.5" cy="208" r="2.05" fill="#1A9490"/>
<circle cx="51.6" cy="210" r="2.05" fill="#1A9490"/>
<circle cx="40.4" cy="213" r="2.05" fill="#1A9490"/>
<circle cx="59.1" cy="218.1" r="2.05" fill="#1A9490"/>
<circle cx="51.6" cy="220.6" r="2.05" fill="#1A9490"/>
<circle cx="56.6" cy="220.9" r="2.05" fill="#1A9490"/>
<circle cx="64.5" cy="220.6" r="2.05" fill="#1A9490"/>
<circle cx="63.5" cy="224.6" r="2.05" fill="#1A9490"/>
<circle cx="72.25" cy="227.75" r="2.05" fill="#1A9490"/>
<circle cx="46" cy="230.25" r="2.05" fill="#1A9490"/>
<circle cx="57.25" cy="230.9" r="2.05" fill="#1A9490"/>
<circle cx="64.5" cy="246.5" r="2.05" fill="#1A9490"/>
<circle cx="68.75" cy="246.5" r="2.05" fill="#1A9490"/>
<circle cx="71.25" cy="250.5" r="2.05" fill="#1A9490"/>
<circle cx="59.75" cy="253.4" r="2.05" fill="#1A9490"/>
<circle cx="62.9" cy="253.4" r="2.05" fill="#1A9490"/>
<circle cx="74.1" cy="252.75" r="2.05" fill="#1A9490"/>
<circle cx="77.9" cy="254" r="2.05" fill="#1A9490"/>
<circle cx="80.4" cy="249.6" r="2.05" fill="#1A9490"/>
<circle cx="68.5" cy="256.5" r="2.05" fill="#1A9490"/>
<circle cx="72" cy="257.75" r="2.05" fill="#1A9490"/>
<circle cx="76.6" cy="262.1" r="2.05" fill="#1A9490"/>
<circle cx="70.4" cy="262.5" r="2.05" fill="#1A9490"/>
<circle cx="68.5" cy="265.9" r="2.05" fill="#1A9490"/>
<circle cx="74.1" cy="272.1" r="2.05" fill="#1A9490"/>
<circle cx="78.25" cy="271.75" r="2.05" fill="#1A9490"/>
<circle cx="100.75" cy="216.6" r="2.05" fill="#1A9490"/>
<circle cx="112" cy="235.4" r="2.05" fill="#1A9490"/>
<circle cx="124.75" cy="233.25" r="2.05" fill="#1A9490"/>
<circle cx="129.75" cy="239.1" r="2.05" fill="#1A9490"/>
<circle cx="87" cy="242.9" r="2.05" fill="#1A9490"/>
<circle cx="96" cy="242.25" r="2.05" fill="#1A9490"/>
<circle cx="101" cy="240" r="2.05" fill="#1A9490"/>
<circle cx="105" cy="243.25" r="2.05" fill="#1A9490"/>
<circle cx="112.9" cy="244.1" r="2.05" fill="#1A9490"/>
<circle cx="128.5" cy="242.9" r="2.05" fill="#1A9490"/>
<circle cx="127.9" cy="246" r="2.05" fill="#1A9490"/>
<circle cx="126.6" cy="248.5" r="2.05" fill="#1A9490"/>
<circle cx="115" cy="250.4" r="2.05" fill="#1A9490"/>
<circle cx="94.5" cy="253.25" r="2.05" fill="#1A9490"/>
<circle cx="84.1" cy="255.4" r="2.05" fill="#1A9490"/>
<circle cx="91" cy="256.6" r="2.05" fill="#1A9490"/>
<circle cx="98.5" cy="256" r="2.05" fill="#1A9490"/>
<circle cx="104.1" cy="256.6" r="2.05" fill="#1A9490"/>
<circle cx="105.4" cy="258.5" r="2.05" fill="#1A9490"/>
<circle cx="111" cy="254.75" r="2.05" fill="#1A9490"/>
<circle cx="111" cy="256" r="2.05" fill="#1A9490"/>
<circle cx="109.1" cy="259.1" r="2.05" fill="#1A9490"/>
<circle cx="113.25" cy="260.1" r="2.05" fill="#1A9490"/>
<circle cx="125.75" cy="258.25" r="2.05" fill="#1A9490"/>
<circle cx="90.75" cy="263.25" r="2.05" fill="#1A9490"/>
<circle cx="87.5" cy="266.25" r="2.05" fill="#1A9490"/>
<circle cx="136" cy="219.1" r="2.05" fill="#1A9490"/>
<circle cx="144.1" cy="222.9" r="2.05" fill="#1A9490"/>
<circle cx="150.75" cy="214.1" r="2.05" fill="#1A9490"/>
<circle cx="155.75" cy="213.75" r="2.05" fill="#1A9490"/>
<circle cx="133.5" cy="232.25" r="2.05" fill="#1A9490"/>
<circle cx="141.6" cy="230.75" r="2.05" fill="#1A9490"/>
<circle cx="151" cy="232.9" r="2.05" fill="#1A9490"/>
<circle cx="146.6" cy="234.75" r="2.05" fill="#1A9490"/>
<circle cx="155.75" cy="229.75" r="2.05" fill="#1A9490"/>
<circle cx="156" cy="233.5" r="2.05" fill="#1A9490"/>
<circle cx="149" cy="235" r="2.05" fill="#1A9490"/>
<circle cx="149.5" cy="239.8" r="2.05" fill="#1A9490"/>
<circle cx="136.5" cy="235.6" r="2.05" fill="#1A9490"/>
<circle cx="132.75" cy="241.9" r="2.05" fill="#1A9490"/>
<circle cx="138" cy="242.5" r="2.05" fill="#1A9490"/>
<circle cx="139.5" cy="244" r="2.05" fill="#1A9490"/>
<circle cx="139.9" cy="247.25" r="2.05" fill="#1A9490"/>
<circle cx="145.5" cy="245.25" r="2.05" fill="#1A9490"/>
<circle cx="188" cy="191.4" r="2.05" fill="#1A9490"/>
<circle cx="186.5" cy="194.75" r="2.05" fill="#1A9490"/>
<circle cx="185" cy="197.75" r="2.05" fill="#1A9490"/>
<circle cx="183.5" cy="200.75" r="2.05" fill="#1A9490"/>
<circle cx="182" cy="203.75" r="2.05" fill="#1A9490"/>
<circle cx="185.75" cy="203.75" r="2.05" fill="#1A9490"/>
<circle cx="180.5" cy="206.75" r="2.05" fill="#1A9490"/>
<circle cx="179" cy="209.75" r="2.05" fill="#1A9490"/>
<circle cx="183.5" cy="206.75" r="2.05" fill="#1A9490"/>
<circle cx="171.5" cy="200" r="2.05" fill="#1A9490"/>
<circle cx="170" cy="203.75" r="2.05" fill="#1A9490"/>
<circle cx="174.5" cy="203" r="2.05" fill="#1A9490"/>
<circle cx="177.5" cy="200.75" r="2.05" fill="#1A9490"/>
<circle cx="173.75" cy="206" r="2.05" fill="#1A9490"/>
<circle cx="176" cy="209" r="2.05" fill="#1A9490"/>
<circle cx="169.25" cy="208.25" r="2.05" fill="#1A9490"/>
<circle cx="177.5" cy="204.5" r="2.05" fill="#1A9490"/>
<circle cx="179" cy="202.25" r="2.05" fill="#1A9490"/>
<circle cx="177.1" cy="207.4" r="2.05" fill="#1A9490"/>
<circle cx="181.6" cy="206.9" r="2.05" fill="#1A9490"/>
<circle cx="175.3" cy="210.5" r="2.05" fill="#1A9490"/>
<circle cx="179.8" cy="210.5" r="2.05" fill="#1A9490"/>
<circle cx="167.2" cy="214.6" r="2.05" fill="#1A9490"/>
<circle cx="162.7" cy="216.85" r="2.05" fill="#1A9490"/>
<circle cx="171.7" cy="216" r="2.05" fill="#1A9490"/>
<circle cx="175.3" cy="215" r="2.05" fill="#1A9490"/>
<circle cx="178.9" cy="213.2" r="2.05" fill="#1A9490"/>
<circle cx="165.4" cy="219.6" r="2.05" fill="#1A9490"/>
<circle cx="169.9" cy="219.6" r="2.05" fill="#1A9490"/>
<circle cx="174.4" cy="218.7" r="2.05" fill="#1A9490"/>
<circle cx="159" cy="223.2" r="2.05" fill="#1A9490"/>
<circle cx="163.6" cy="223.2" r="2.05" fill="#1A9490"/>
<circle cx="168.1" cy="222.3" r="2.05" fill="#1A9490"/>
<circle cx="171.7" cy="221.8" r="2.05" fill="#1A9490"/>
<circle cx="160.85" cy="225.9" r="2.05" fill="#1A9490"/>
<circle cx="165.4" cy="225.9" r="2.05" fill="#1A9490"/>
<circle cx="169" cy="225" r="2.05" fill="#1A9490"/>
<circle cx="159.9" cy="228.6" r="2.05" fill="#1A9490"/>
<circle cx="163.6" cy="228.6" r="2.05" fill="#1A9490"/>
<circle cx="160.85" cy="231.8" r="2.05" fill="#1A9490"/>
<circle cx="155.9" cy="230" r="2.05" fill="#1A9490"/>
<circle cx="150.9" cy="232.7" r="2.05" fill="#1A9490"/>
<circle cx="155.4" cy="234" r="2.05" fill="#1A9490"/>
<circle cx="172.5" cy="212.5" r="2.05" fill="#1A9490"/>
<circle cx="167" cy="218" r="2.05" fill="#1A9490"/>
<circle cx="162" cy="220" r="2.05" fill="#1A9490"/>
<circle cx="188" cy="194.5" r="2.05" fill="#1A9490"/>
<circle cx="186.5" cy="198" r="2.05" fill="#1A9490"/>
<circle cx="185" cy="201.5" r="2.05" fill="#1A9490"/>
<circle cx="183.5" cy="204.5" r="2.05" fill="#1A9490"/>
<circle cx="181.5" cy="208" r="2.05" fill="#1A9490"/>
<circle cx="179.5" cy="211" r="2.05" fill="#1A9490"/>
<circle cx="177.5" cy="213.5" r="2.05" fill="#1A9490"/>
<circle cx="175" cy="217" r="2.05" fill="#1A9490"/>
<circle cx="172.5" cy="220" r="2.05" fill="#1A9490"/>
<circle cx="170" cy="223" r="2.05" fill="#1A9490"/>
<circle cx="167" cy="225.5" r="2.05" fill="#1A9490"/>
<circle cx="164" cy="228" r="2.05" fill="#1A9490"/>
<circle cx="184" cy="196" r="2.05" fill="#1A9490"/>
<circle cx="182.5" cy="199" r="2.05" fill="#1A9490"/>
<circle cx="181" cy="202" r="2.05" fill="#1A9490"/>
<circle cx="179.5" cy="205" r="2.05" fill="#1A9490"/>
<circle cx="177.5" cy="208" r="2.05" fill="#1A9490"/>
<circle cx="176" cy="211.5" r="2.05" fill="#1A9490"/>
<circle cx="173.5" cy="214" r="2.05" fill="#1A9490"/>
<circle cx="171" cy="217" r="2.05" fill="#1A9490"/>
<circle cx="168.5" cy="220" r="2.05" fill="#1A9490"/>
<circle cx="166" cy="223" r="2.05" fill="#1A9490"/>
<circle cx="163" cy="226" r="2.05" fill="#1A9490"/>
<circle cx="38.5" cy="161.6" r="2.05" fill="#DE434D"/>
<circle cx="39.75" cy="164.1" r="2.05" fill="#DE434D"/>
<circle cx="42.25" cy="164.75" r="2.05" fill="#DE434D"/>
<circle cx="37.9" cy="166.6" r="2.05" fill="#DE434D"/>
<circle cx="41.6" cy="167.25" r="2.05" fill="#DE434D"/>
<circle cx="39.75" cy="167.9" r="2.05" fill="#DE434D"/>
<circle cx="43.5" cy="166.6" r="2.05" fill="#DE434D"/>
<circle cx="47.25" cy="168.5" r="2.05" fill="#DE434D"/>
<circle cx="49.1" cy="169.75" r="2.05" fill="#DE434D"/>
<circle cx="47.9" cy="170.4" r="2.05" fill="#DE434D"/>
<circle cx="44.1" cy="172.25" r="2.05" fill="#DE434D"/>
<circle cx="38.5" cy="175" r="2.05" fill="#DE434D"/>
<circle cx="43.5" cy="177.25" r="2.05" fill="#DE434D"/>
<circle cx="53.5" cy="176" r="2.05" fill="#DE434D"/>
<circle cx="52.9" cy="178.5" r="2.05" fill="#DE434D"/>
<circle cx="56" cy="178.5" r="2.05" fill="#DE434D"/>
<circle cx="55.4" cy="181" r="2.05" fill="#DE434D"/>
<circle cx="51.6" cy="179.1" r="2.05" fill="#DE434D"/>
<circle cx="48.5" cy="184.5" r="2.05" fill="#DE434D"/>
<circle cx="48.5" cy="190" r="2.05" fill="#DE434D"/>
<circle cx="60.75" cy="190" r="2.05" fill="#DE434D"/>
<circle cx="54.1" cy="195.4" r="2.05" fill="#DE434D"/>
<circle cx="38.75" cy="207.5" r="2.05" fill="#DE434D"/>
<circle cx="54.5" cy="213.4" r="2.05" fill="#DE434D"/>
<circle cx="47.25" cy="222.5" r="2.05" fill="#DE434D"/>
<circle cx="69.75" cy="223" r="2.05" fill="#DE434D"/>
<circle cx="51.6" cy="236.5" r="2.05" fill="#DE434D"/>
<circle cx="67.25" cy="264" r="2.05" fill="#DE434D"/>
<circle cx="85.75" cy="211.6" r="2.05" fill="#DE434D"/>
<circle cx="155.4" cy="177.6" r="2.05" fill="#DE434D"/>
</g>
<rect x="31.3" y="157.5" width="164.20" height="120.30" fill="none" stroke="#959595" stroke-width="1.2"/>
<line x1="61.00" y1="277.8" x2="61.00" y2="280.00" stroke="#959595" stroke-width="1"/>
<text x="61.00" y="287.8" text-anchor="middle" class="tk">-0.4</text>
<line x1="93.80" y1="277.8" x2="93.80" y2="280.00" stroke="#959595" stroke-width="1"/>
<text x="93.80" y="287.8" text-anchor="middle" class="tk">-0.2</text>
<line x1="126.60" y1="277.8" x2="126.60" y2="280.00" stroke="#959595" stroke-width="1"/>
<text x="126.60" y="287.8" text-anchor="middle" class="tk">0.0</text>
<line x1="159.40" y1="277.8" x2="159.40" y2="280.00" stroke="#959595" stroke-width="1"/>
<text x="159.40" y="287.8" text-anchor="middle" class="tk">0.2</text>
<line x1="192.20" y1="277.8" x2="192.20" y2="280.00" stroke="#959595" stroke-width="1"/>
<text x="192.20" y="287.8" text-anchor="middle" class="tk">0.4</text>
<line x1="29.10" y1="184.80" x2="31.3" y2="184.80" stroke="#959595" stroke-width="1"/>
<text x="23.8" y="187.30" text-anchor="end" class="tk">0.25</text>
<line x1="29.10" y1="216.80" x2="31.3" y2="216.80" stroke="#959595" stroke-width="1"/>
<text x="23.8" y="219.30" text-anchor="end" class="tk">0.00</text>
<line x1="29.10" y1="248.80" x2="31.3" y2="248.80" stroke="#959595" stroke-width="1"/>
<text x="23.8" y="251.30" text-anchor="end" class="tk">-0.25</text>
<text transform="translate(113.40,297.8) scale(0.93,1)" text-anchor="middle" class="ti" xml:space="preserve">Axis.1   [40.9%]</text>
<text transform="translate(7.2,217.65) rotate(-90) scale(0.93,1)" text-anchor="middle" class="ti" xml:space="preserve">Axis.2   [16.1%]</text>
<text x="1.5" y="160.4" class="tag">C</text>

<text x="136" y="318.8" class="lg">DD</text>
<circle cx="159.75" cy="315.3" r="1.4" fill="#DE434D"/>
<text x="171.1" y="318.8" class="lg">Negative</text>
<circle cx="220.4" cy="315.3" r="1.4" fill="#1A9490"/>
<text x="231.8" y="318.8" class="lg">Positive</text>

</svg>
</body></html>
